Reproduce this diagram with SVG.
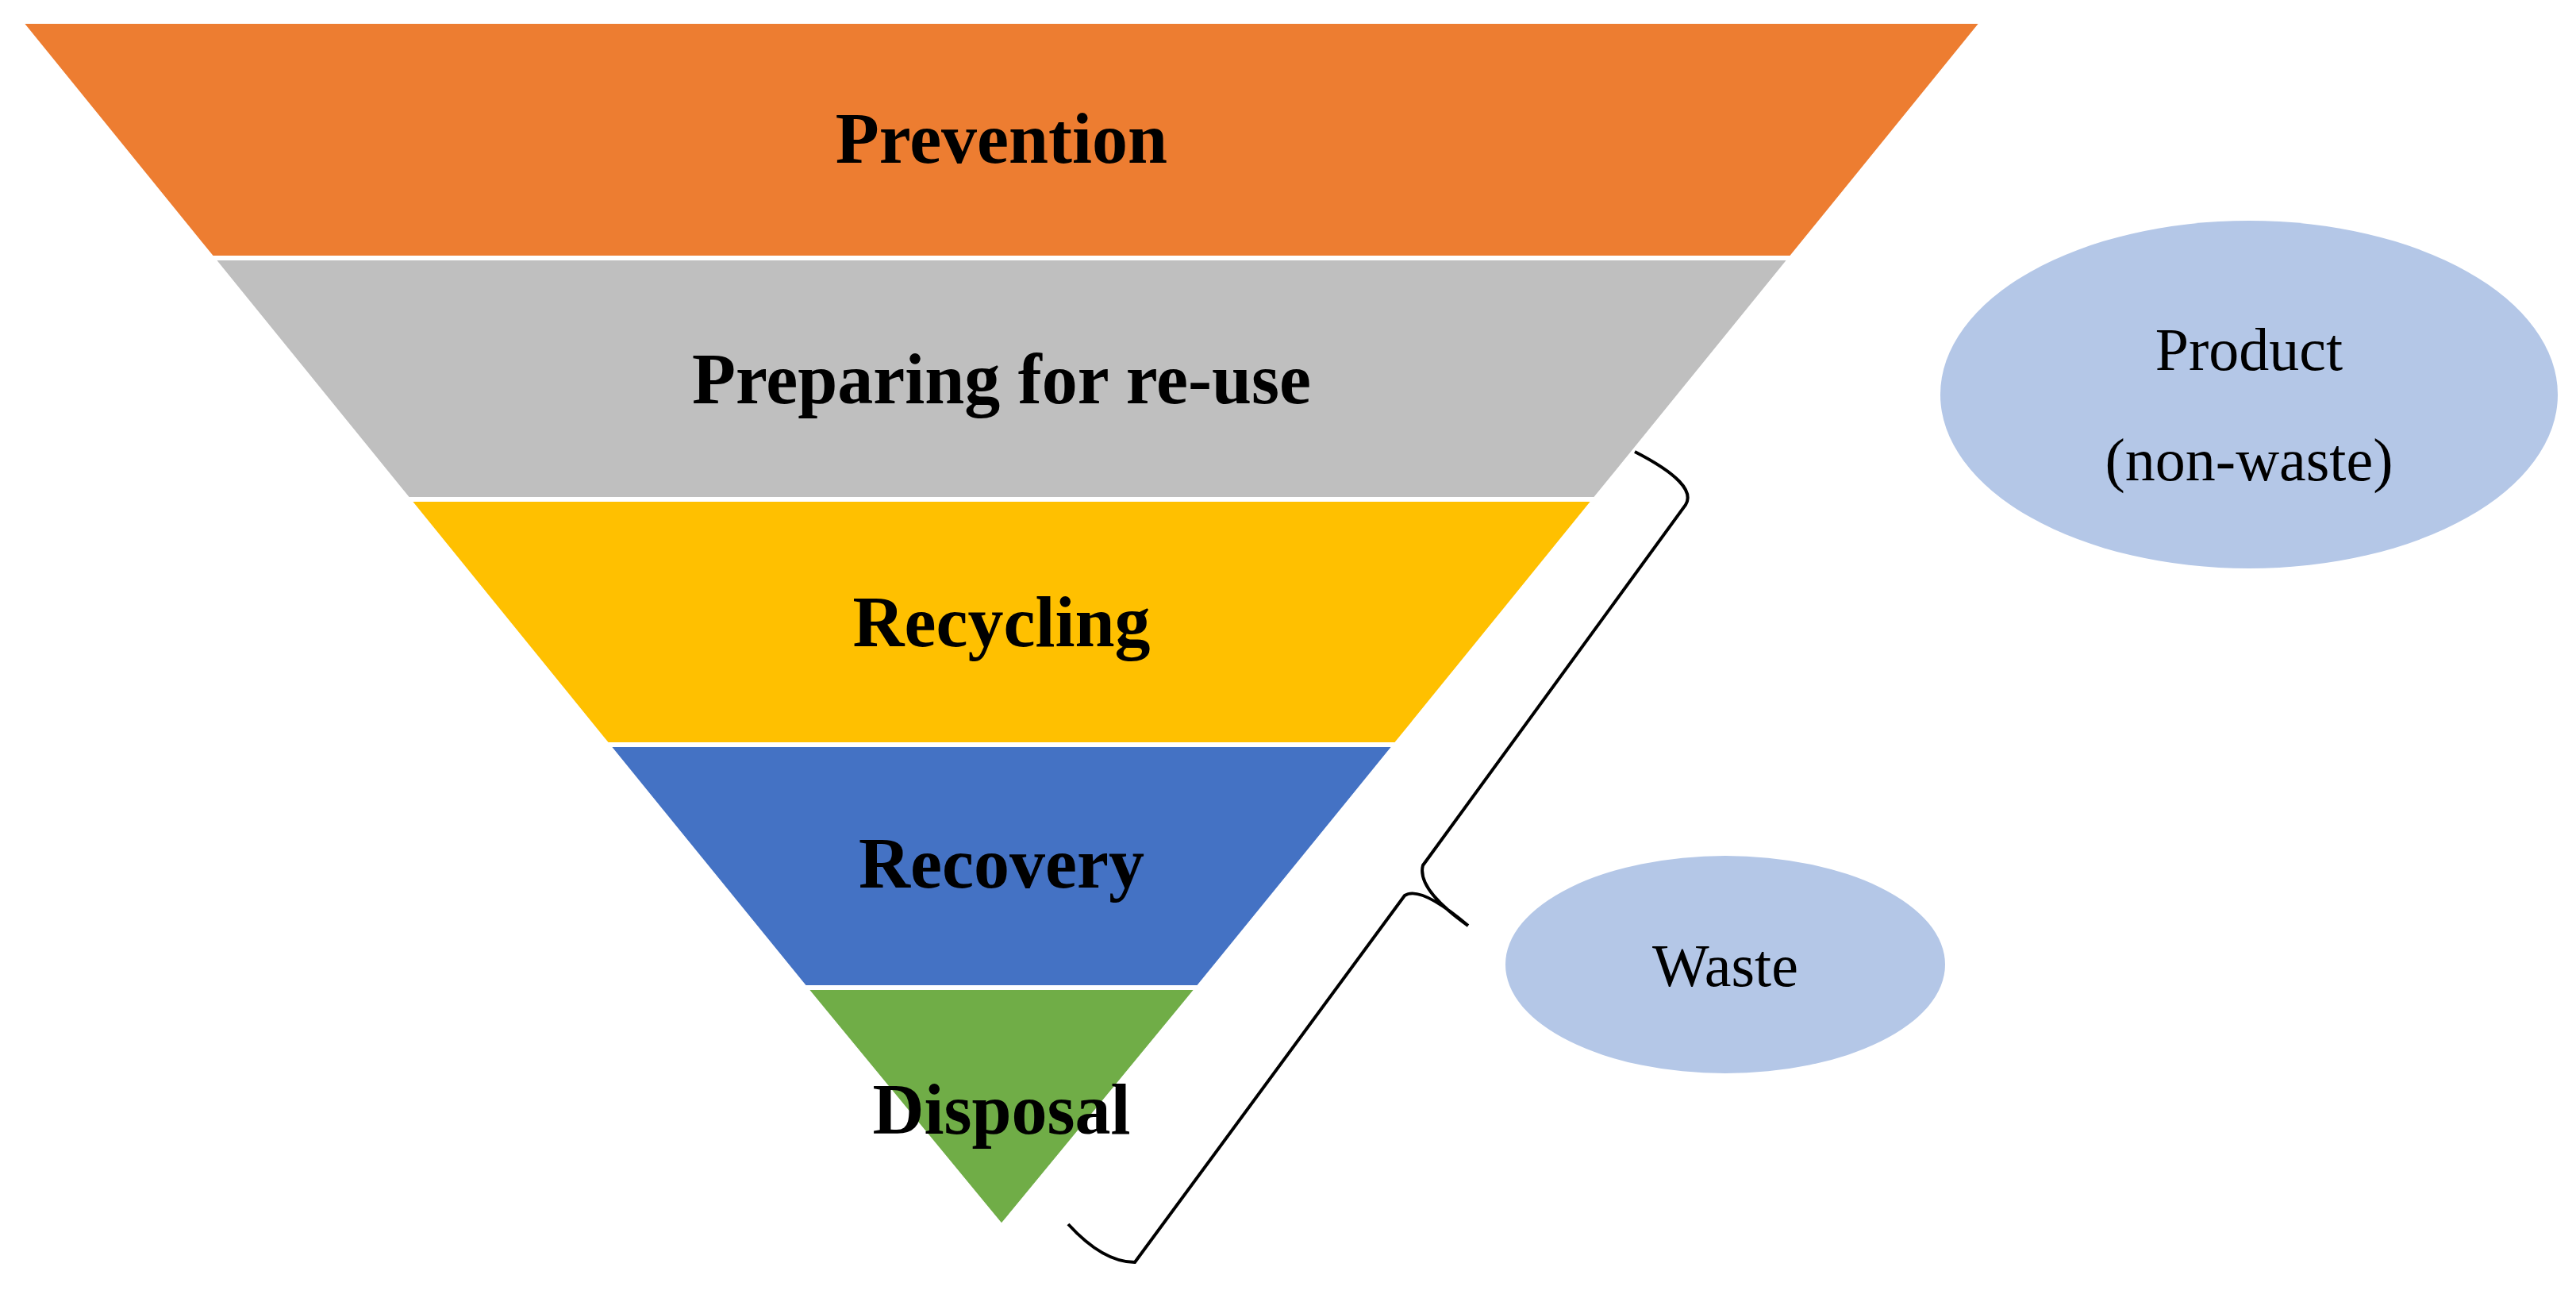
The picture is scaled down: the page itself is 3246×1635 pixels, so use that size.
<svg xmlns="http://www.w3.org/2000/svg" width="3246" height="1635" viewBox="0 0 3246 1635">
<style>
.lvl{font-family:"Liberation Serif",serif;font-weight:bold;font-size:90px;text-anchor:middle;fill:#000}
.el{font-family:"Liberation Serif",serif;font-size:76px;text-anchor:middle;fill:#000}
.band{stroke:#fff;stroke-width:6}
</style>
<rect width="3246" height="1635" fill="#fff"/>
<g id="prevention"><polygon class="band" points="25,27 2499,27 2257,325 267,325" fill="#ED7D31"/><text class="lvl" x="1262" y="205">Prevention</text></g>
<g id="reuse"><polygon class="band" points="267,325 2257,325 2010,629 514,629" fill="#BFBFBF"/><text class="lvl" x="1262" y="508">Preparing for re-use</text></g>
<g id="recycling"><polygon class="band" points="514,629 2010,629 1759,938 765,938" fill="#FFC000"/><text class="lvl" x="1262" y="814">Recycling</text></g>
<g id="recovery"><polygon class="band" points="765,938 1759,938 1510,1244 1014,1244" fill="#4472C4"/><text class="lvl" x="1262" y="1118">Recovery</text></g>
<g id="disposal"><polygon class="band" points="1014,1244 1510,1244 1262,1545" fill="#70AD47"/><text class="lvl" x="1262" y="1428">Disposal</text></g>
<g id="product"><ellipse cx="2834" cy="497" rx="389" ry="219" fill="#B4C7E7"/><text class="el" x="2834" y="466">Product</text><text class="el" x="2834" y="605">(non-waste)</text></g>
<g id="waste"><ellipse cx="2174" cy="1215" rx="277" ry="137" fill="#B4C7E7"/><text class="el" x="2174" y="1242">Waste</text></g>
<g id="connectors"><path d="M2060,569 Q2140,610 2124,636 L1793,1090 Q1785,1120 1850,1166 M1850,1166 Q1790,1115 1770,1128 L1430,1590 Q1390,1590 1346,1542" fill="none" stroke="#000" stroke-width="4"/></g>
</svg>
